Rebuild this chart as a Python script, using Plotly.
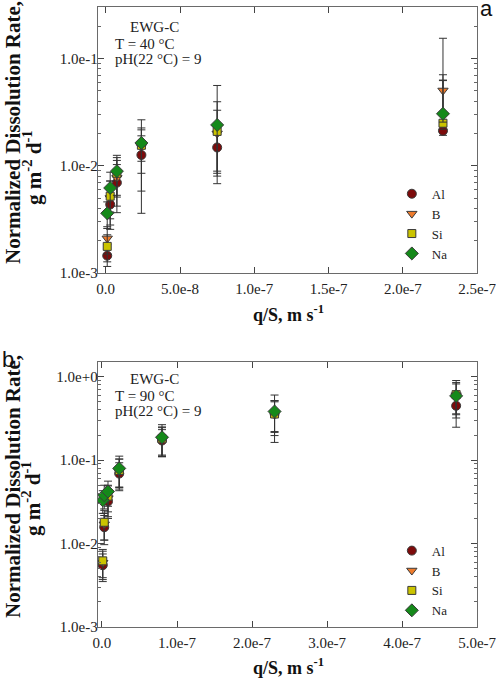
import plotly.graph_objects as go

# ---- panel a: T = 40 C ----
qs_a = [1e-9, 3e-9, 7.5e-9, 2.4e-8, 7.5e-8, 2.27e-7]

al_a = [1.45e-3, 4.35e-3, 6.95e-3, 1.26e-2, 1.48e-2, 2.12e-2]
al_a_up = [0.4e-3, 1.8e-3, 3.3e-3, 9.0e-3, 8.0e-3, 4.1e-2]
al_a_dn = [0.3e-3, 1.8e-3, 3.3e-3, 9.0e-3, 8.0e-3, 0.2e-2]

b_a = [2.1e-3, 5.0e-3, 7.7e-3, 1.5e-2, 2.0e-2, 5.03e-2]
b_a_up = [0.6e-3, 2.2e-3, 3.5e-3, 4.0e-3, 3.6e-2, 1.04e-1]
b_a_dn = [0.6e-3, 2.2e-3, 3.5e-3, 4.0e-3, 1.2e-2, 2.5e-2]

si_a = [1.77e-3, 5.2e-3, 8.5e-3, 1.55e-2, 2.09e-2, 2.49e-2]
si_a_up = [0.5e-3, 2.0e-3, 3.4e-3, 7.0e-3, 1.2e-2, 3.8e-2]
si_a_dn = [0.5e-3, 2.0e-3, 3.4e-3, 7.0e-3, 1.2e-2, 0.3e-2]

na_a = [3.6e-3, 6.2e-3, 8.9e-3, 1.63e-2, 2.4e-2, 3.05e-2]
na_a_up = [1.0e-3, 2.5e-3, 3.6e-3, 1.05e-2, 1.55e-2, 4.0e-2]
na_a_dn = [1.0e-3, 2.5e-3, 3.6e-3, 1.05e-2, 1.55e-2, 0.5e-2]

# ---- panel b: T = 90 C ----
qs_b = [1e-9, 3e-9, 8e-9, 2.3e-8, 8e-8, 2.3e-7, 4.72e-7]

al_b = [5.5e-3, 1.57e-2, 3.2e-2, 6.9e-2, 1.72e-1, 3.6e-1, 4.48e-1]
al_b_err = [2.0e-3, 6.0e-3, 1.2e-2, 2.4e-2, 6.0e-2, 1.4e-1, 2.0e-1]

b_b = [5.9e-3, 1.7e-2, 3.5e-2, 7.3e-2, 1.8e-1, 3.65e-1, 6.0e-1]
b_b_err = [2.2e-3, 6.0e-3, 1.4e-2, 3.0e-2, 7.0e-2, 1.5e-1, 2.5e-1]

si_b = [6.2e-3, 1.8e-2, 3.7e-2, 7.5e-2, 1.8e-1, 3.57e-1, 6.1e-1]
si_b_err = [2.3e-3, 7.0e-3, 1.3e-2, 2.8e-2, 6.5e-2, 1.6e-1, 2.9e-1]

na_b = [3.3e-2, 3.8e-2, 4.2e-2, 7.96e-2, 1.88e-1, 3.83e-1, 5.89e-1]
na_b_err = [1.0e-2, 1.2e-2, 1.4e-2, 3.2e-2, 7.8e-2, 2.2e-1, 2.3e-1]

# tick labels
xa_vals = [0, 5e-8, 1e-7, 1.5e-7, 2e-7, 2.5e-7]
xa_text = ["0.0", "5.0e-8", "1.0e-7", "1.5e-7", "2.0e-7", "2.5e-7"]
xb_vals = [0, 1e-7, 2e-7, 3e-7, 4e-7, 5e-7]
xb_text = ["0.0", "1.0e-7", "2.0e-7", "3.0e-7", "4.0e-7", "5.0e-7"]
ya_vals = [1e-3, 1e-2, 1e-1]
ya_text = ["1.0e-3", "1.0e-2", "1.0e-1"]
yb_vals = [1e-3, 1e-2, 1e-1, 1e0]
yb_text = ["1.0e-3", "1.0e-2", "1.0e-1", "1.0e+0"]

styles = {
    "Al": dict(symbol="circle", color="#7d0b0b", size=9),
    "B": dict(symbol="triangle-down", color="#ee7b2c", size=9),
    "Si": dict(symbol="square", color="#cbc400", size=8),
    "Na": dict(symbol="diamond", color="#15891a", size=10),
}

SERIF = "Liberation Serif"
fig = go.Figure()

panel_a = [("Al", al_a, al_a_up, al_a_dn), ("B", b_a, b_a_up, b_a_dn),
           ("Si", si_a, si_a_up, si_a_dn), ("Na", na_a, na_a_up, na_a_dn)]
for name, y, up, dn in panel_a:
    s = styles[name]
    fig.add_trace(go.Scatter(
        x=qs_a, y=y, mode="markers", name=name, legend="legend",
        marker=dict(symbol=s["symbol"], color=s["color"], size=s["size"],
                    line=dict(color="#3a3a3a", width=1)),
        error_y=dict(type="data", symmetric=False, array=up, arrayminus=dn,
                     color="#333333", thickness=1, width=4),
        xaxis="x", yaxis="y"))

panel_b = [("Al", al_b, al_b_err), ("B", b_b, b_b_err),
           ("Si", si_b, si_b_err), ("Na", na_b, na_b_err)]
for name, y, err in panel_b:
    s = styles[name]
    fig.add_trace(go.Scatter(
        x=qs_b, y=y, mode="markers", name=name, legend="legend2",
        marker=dict(symbol=s["symbol"], color=s["color"], size=s["size"],
                    line=dict(color="#3a3a3a", width=1)),
        error_y=dict(type="data", array=err, color="#333333", thickness=1, width=4),
        xaxis="x2", yaxis="y2"))

xdom = [0.197, 0.962]
axis_common = dict(showline=True, linecolor="#6a6a6a", linewidth=1, mirror="ticks",
                   ticks="inside", ticklen=6, tickcolor="#444444", showgrid=False,
                   zeroline=False, ticklabeloverflow="allow",
                   tickfont=dict(family=SERIF, size=15, color="#222"))
minor_log = dict(ticks="inside", ticklen=3, tickcolor="#666666", dtick="D1", showgrid=False)

legend_common = dict(bgcolor="rgba(0,0,0,0)", font=dict(family=SERIF, size=13, color="#222"),
                     xanchor="left", yanchor="top", itemclick=False)

fig.update_layout(
    width=496, height=685,
    margin=dict(l=0, r=0, t=0, b=0, autoexpand=False),
    font=dict(family=SERIF, size=15, color="#222"),
    paper_bgcolor="white", plot_bgcolor="white",
    showlegend=True,
    xaxis=dict(axis_common, domain=xdom, range=[-5.4e-9, 2.5e-7], ticklabelstandoff=2,
               tickvals=xa_vals, ticktext=xa_text, anchor="y"),
    yaxis=dict(axis_common, domain=[0.6015, 0.9898], type="log", range=[-3, -0.52],
               ticklabelstandoff=-4,
               tickvals=ya_vals, ticktext=ya_text, minor=minor_log, anchor="x"),
    xaxis2=dict(axis_common, domain=xdom, range=[-5.7e-9, 5e-7], ticklabelstandoff=2,
                tickvals=xb_vals, ticktext=xb_text, anchor="y2"),
    yaxis2=dict(axis_common, domain=[0.0847, 0.4715], type="log", range=[-3, 0.176],
                ticklabelstandoff=-4,
                tickvals=yb_vals, ticktext=yb_text, minor=minor_log, anchor="x2"),
    legend=dict(legend_common, x=0.79, y=0.739),
    legend2=dict(legend_common, x=0.79, y=0.218),
)

ann = []
bold_title = dict(family=SERIF, size=21, color="#111")
for mid1, mid2, xt in [(133, 168, 313), (487, 499, 666)]:
    ann.append(dict(text="<b>Normalized Dissolution Rate,</b>", x=13, y=1 - mid1 / 685,
                    textangle=-90, font=bold_title))
    ann.append(dict(text="<b>g m<sup>-2</sup> d<sup>-1</sup></b>", x=32, y=1 - mid2 / 685,
                    textangle=-90, font=bold_title))
    ann.append(dict(text="<b>q/S, m s<sup>-1</sup></b>", x=288, y=1 - xt / 685,
                    font=dict(family=SERIF, size=18, color="#111")))

info = [("EWG-C", "T = 40 \u00b0C", 27), ("EWG-C", "T = 90 \u00b0C", 379)]
for head, temp, y0 in info:
    txt_font = dict(family=SERIF, size=15, color="#222")
    ann.append(dict(text=head, x=154, y=1 - y0 / 685, font=txt_font))
    ann.append(dict(text=temp, x=113, y=1 - (y0 + 16.5) / 685, xanchor="left", font=txt_font))
    ann.append(dict(text="pH(22 \u00b0C) = 9", x=113, y=1 - (y0 + 32.5) / 685,
                    xanchor="left", font=txt_font))

letter_font = dict(family="Liberation Sans", size=22, color="#111")
ann.append(dict(text="a", x=495, y=1 - 8 / 685, xanchor="right", font=letter_font))
ann.append(dict(text="b", x=0, y=1 - 359 / 685, xanchor="left", font=letter_font))

for a in ann:
    a.setdefault("xanchor", "center")
    a.update(xref="paper", yref="paper", showarrow=False, yanchor="middle")
    a["x"] = a["x"] / 496

fig.update_layout(annotations=ann)

# page body has a default 8px margin; drop it so the figure sits at the window origin
fig.write_html("out.html", config={"displayModeBar": False},
               post_script="document.body.style.margin = '0px';")
